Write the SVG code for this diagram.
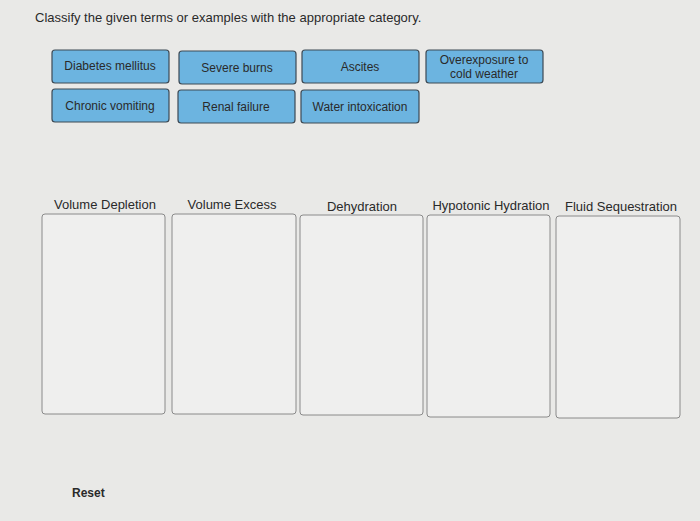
<svg xmlns="http://www.w3.org/2000/svg" width="700" height="521" viewBox="0 0 700 521">
<style>
text{font-family:"Liberation Sans",Arial,sans-serif;fill:#2a2a2a}
.chip rect{fill:#6cb4e0;stroke:#3d4a55;stroke-width:1.2}
.chip text{font-size:12px;text-anchor:middle}
.bin rect{fill:#efefee;stroke:#8a8a8a;stroke-width:1}
.bin text{font-size:13px;text-anchor:middle}
</style>
<rect width="700" height="521" fill="#e9e9e7"/>
<text x="35" y="22" font-size="13">Classify the given terms or examples with the appropriate category.</text>
<g id="n1" class="chip"><rect x="52" y="50" width="117" height="33" rx="3"/><text x="110" y="70">Diabetes mellitus</text></g>
<g id="n2" class="chip"><rect x="179" y="51" width="117" height="33" rx="3"/><text x="237" y="72">Severe burns</text></g>
<g id="n3" class="chip"><rect x="302" y="50" width="117" height="33" rx="3"/><text x="360" y="71">Ascites</text></g>
<g id="n4" class="chip"><rect x="426" y="50" width="117" height="33" rx="3"/><text x="484" y="64">Overexposure to</text><text x="484" y="78">cold weather</text></g>
<g id="n5" class="chip"><rect x="52" y="89" width="117" height="33" rx="3"/><text x="110" y="110">Chronic vomiting</text></g>
<g id="n6" class="chip"><rect x="178" y="90" width="117" height="33" rx="3"/><text x="236" y="111">Renal failure</text></g>
<g id="n7" class="chip"><rect x="301" y="90" width="118" height="33" rx="3"/><text x="360" y="111">Water intoxication</text></g>
<g id="b1" class="bin"><text x="105" y="209">Volume Depletion</text><rect x="42" y="214" width="123" height="200" rx="3"/></g>
<g id="b2" class="bin"><text x="232" y="209">Volume Excess</text><rect x="172" y="214" width="124" height="200" rx="3"/></g>
<g id="b3" class="bin"><text x="362" y="211">Dehydration</text><rect x="300" y="215" width="123" height="200" rx="3"/></g>
<g id="b4" class="bin"><text x="491" y="210">Hypotonic Hydration</text><rect x="427" y="215" width="123" height="202" rx="3"/></g>
<g id="b5" class="bin"><text x="621" y="211">Fluid Sequestration</text><rect x="556" y="216" width="124" height="202" rx="3"/></g>
<text x="72" y="497" font-size="12" font-weight="bold">Reset</text>
<g id="connectors"/>
</svg>
